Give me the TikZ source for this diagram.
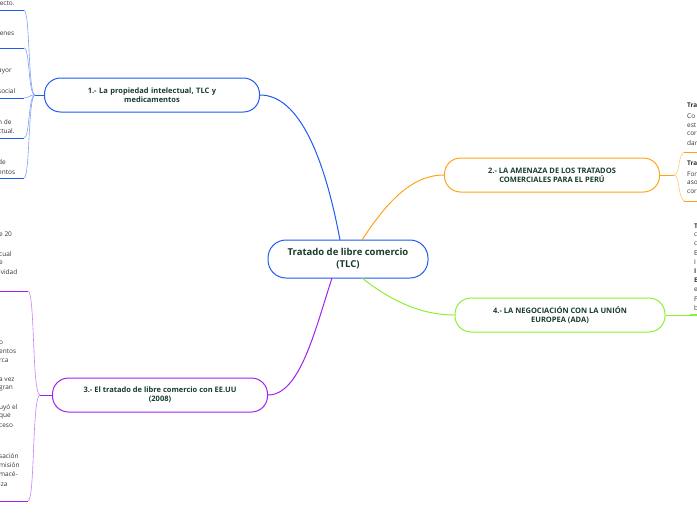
\documentclass[tikz,border=0pt]{standalone}
\usepackage{fontspec}
\setmainfont{Open Sans}
\begin{document}
\begin{tikzpicture}[x=1pt,y=-1pt,
  topic/.style={draw,line width=1pt,rounded corners=16pt,minimum height=34pt,align=center,font=\fontsize{7.5}{9}\selectfont\bfseries,text=tcol},
  leaf/.style={font=\fontsize{6.5}{9}\selectfont,anchor=west,inner sep=0pt,text=black!80},
  bold/.style={leaf,font=\fontsize{6.5}{9}\selectfont\bfseries}]
\definecolor{tcol}{HTML}{173B2C}
\useasboundingbox (0,0) rectangle (697,520);
\definecolor{cb}{HTML}{1E5BF0}\definecolor{cbl}{HTML}{7FA2F5}
\definecolor{co}{HTML}{FFA31A}\definecolor{col}{HTML}{FFC870}
\definecolor{cp}{HTML}{A020F0}\definecolor{cpl}{HTML}{C880F5}
\definecolor{cg}{HTML}{8CF02C}
\node[topic,draw=cb,rounded corners=18pt,minimum width=160pt,minimum height=38pt,font=\fontsize{9.5}{12}\selectfont\bfseries,text=tcol] (c) at (348,259) {Tratado de libre comercio\\(TLC)};
\node[topic,draw=cb,minimum width=215pt,text width=150pt] (t1) at (152,95) {1.- La propiedad intelectual, TLC y\\medicamentos};
\node[topic,draw=co,minimum width=215pt] (t2) at (552,175) {2.- LA AMENAZA DE LOS TRATADOS\\COMERCIALES PARA EL PERÚ};
\node[topic,draw=cp,minimum width=215pt] (t3) at (160,395) {3.- El tratado de libre comercio con EE.UU\\(2008)};
\node[topic,draw=cg,minimum width=210pt] (t4) at (560,315) {4.- LA NEGOCIACIÓN CON LA UNIÓN\\EUROPEA (ADA)};
% main connectors
\draw[cb,line width=1pt] (340,240) .. controls (325,160) and (300,95) .. (t1.east);
\draw[co,line width=1pt] (362,240) .. controls (385,205) and (410,175) .. (t2.west);
\draw[cg,line width=1pt] (362,278) .. controls (390,300) and (420,315) .. (t4.west);
\draw[cp,line width=1pt] (332,278) .. controls (315,330) and (300,395) .. (t3.east);
% topic 1 leaves
\coordinate (b1) at (35,95);
\draw[cb,line width=1pt] (t1.west) -- (b1);
\foreach \y/\x in {10/25,48/25,98/25,138/25,178/25}{
  \draw[cbl,line width=0.6pt] (b1) .. controls (28,95) and (30,\y) .. (24,\y);
  \draw[cb,line width=1pt] (0,\y) -- (24,\y);}
\node[leaf] (l1) at (-2,3) {lecto.};
\node[leaf] (l2) at (-2,33) {ienes};
\node[leaf] (l3) at (-2,72) {ayor};
\node[leaf] (l4) at (-2,91) {social};
\node[leaf] (l5) at (-2,122) {n de};
\node[leaf] (l6) at (-2,131) {ctual.};
\node[leaf] (l7) at (-2,162) {de};
\node[leaf] (l8) at (-2,172) {entos};
% topic 3 leaves
\coordinate (b3) at (40,395);
\draw[cp,line width=1pt] (t3.west) -- (b3);
\foreach \y in {291,501}{
  \draw[cpl,line width=0.6pt] (b3) .. controls (32,395) and (35,\y) .. (28,\y);
  \draw[cp,line width=1pt] (0,\y) -- (28,\y);}
\foreach \y/\t in {234/e 20,254/cual,263/e,272/ividad,343/o,351/entos,361/rca,380/a vez,389/gran,408/uyó el,417/que,426/ceso,456/sación,465/misión,474/macé-,484/iza}
  \node[leaf] at (-1,\y) {\t};
% topic 2 leaves
\coordinate (b2) at (674,175);
\draw[co,line width=1pt] (t2.east) -- (b2);
\foreach \y in {152,201}{
  \draw[col,line width=0.6pt] (b2) .. controls (680,175) and (678,\y) .. (685,\y);
  \draw[co,line width=1pt] (684,\y) -- (700,\y);}
\node[bold] at (687,105) {Tra};
\foreach \y/\t in {116/Co,125/est,134/cor,143/dar,174/For,183/aso,192/cor}
  \node[leaf] at (687,\y) {\t};
\node[bold] at (687,163) {Tra};
% topic 4 leaf
\coordinate (b4) at (690,315);
\draw[cg,line width=0.6pt] (t4.east) -- (b4);
\draw[cg,line width=1.5pt] (b4) -- (700,315);
\node[bold] at (694,226) {T};
\foreach \y/\t in {235/c,244/c,253/E,262/I,290/e,299/F,308/b}
  \node[leaf] at (694,\y) {\t};
\node[bold] at (694,271) {I};
\node[bold] at (694,280) {E};
\end{tikzpicture}
\end{document}
